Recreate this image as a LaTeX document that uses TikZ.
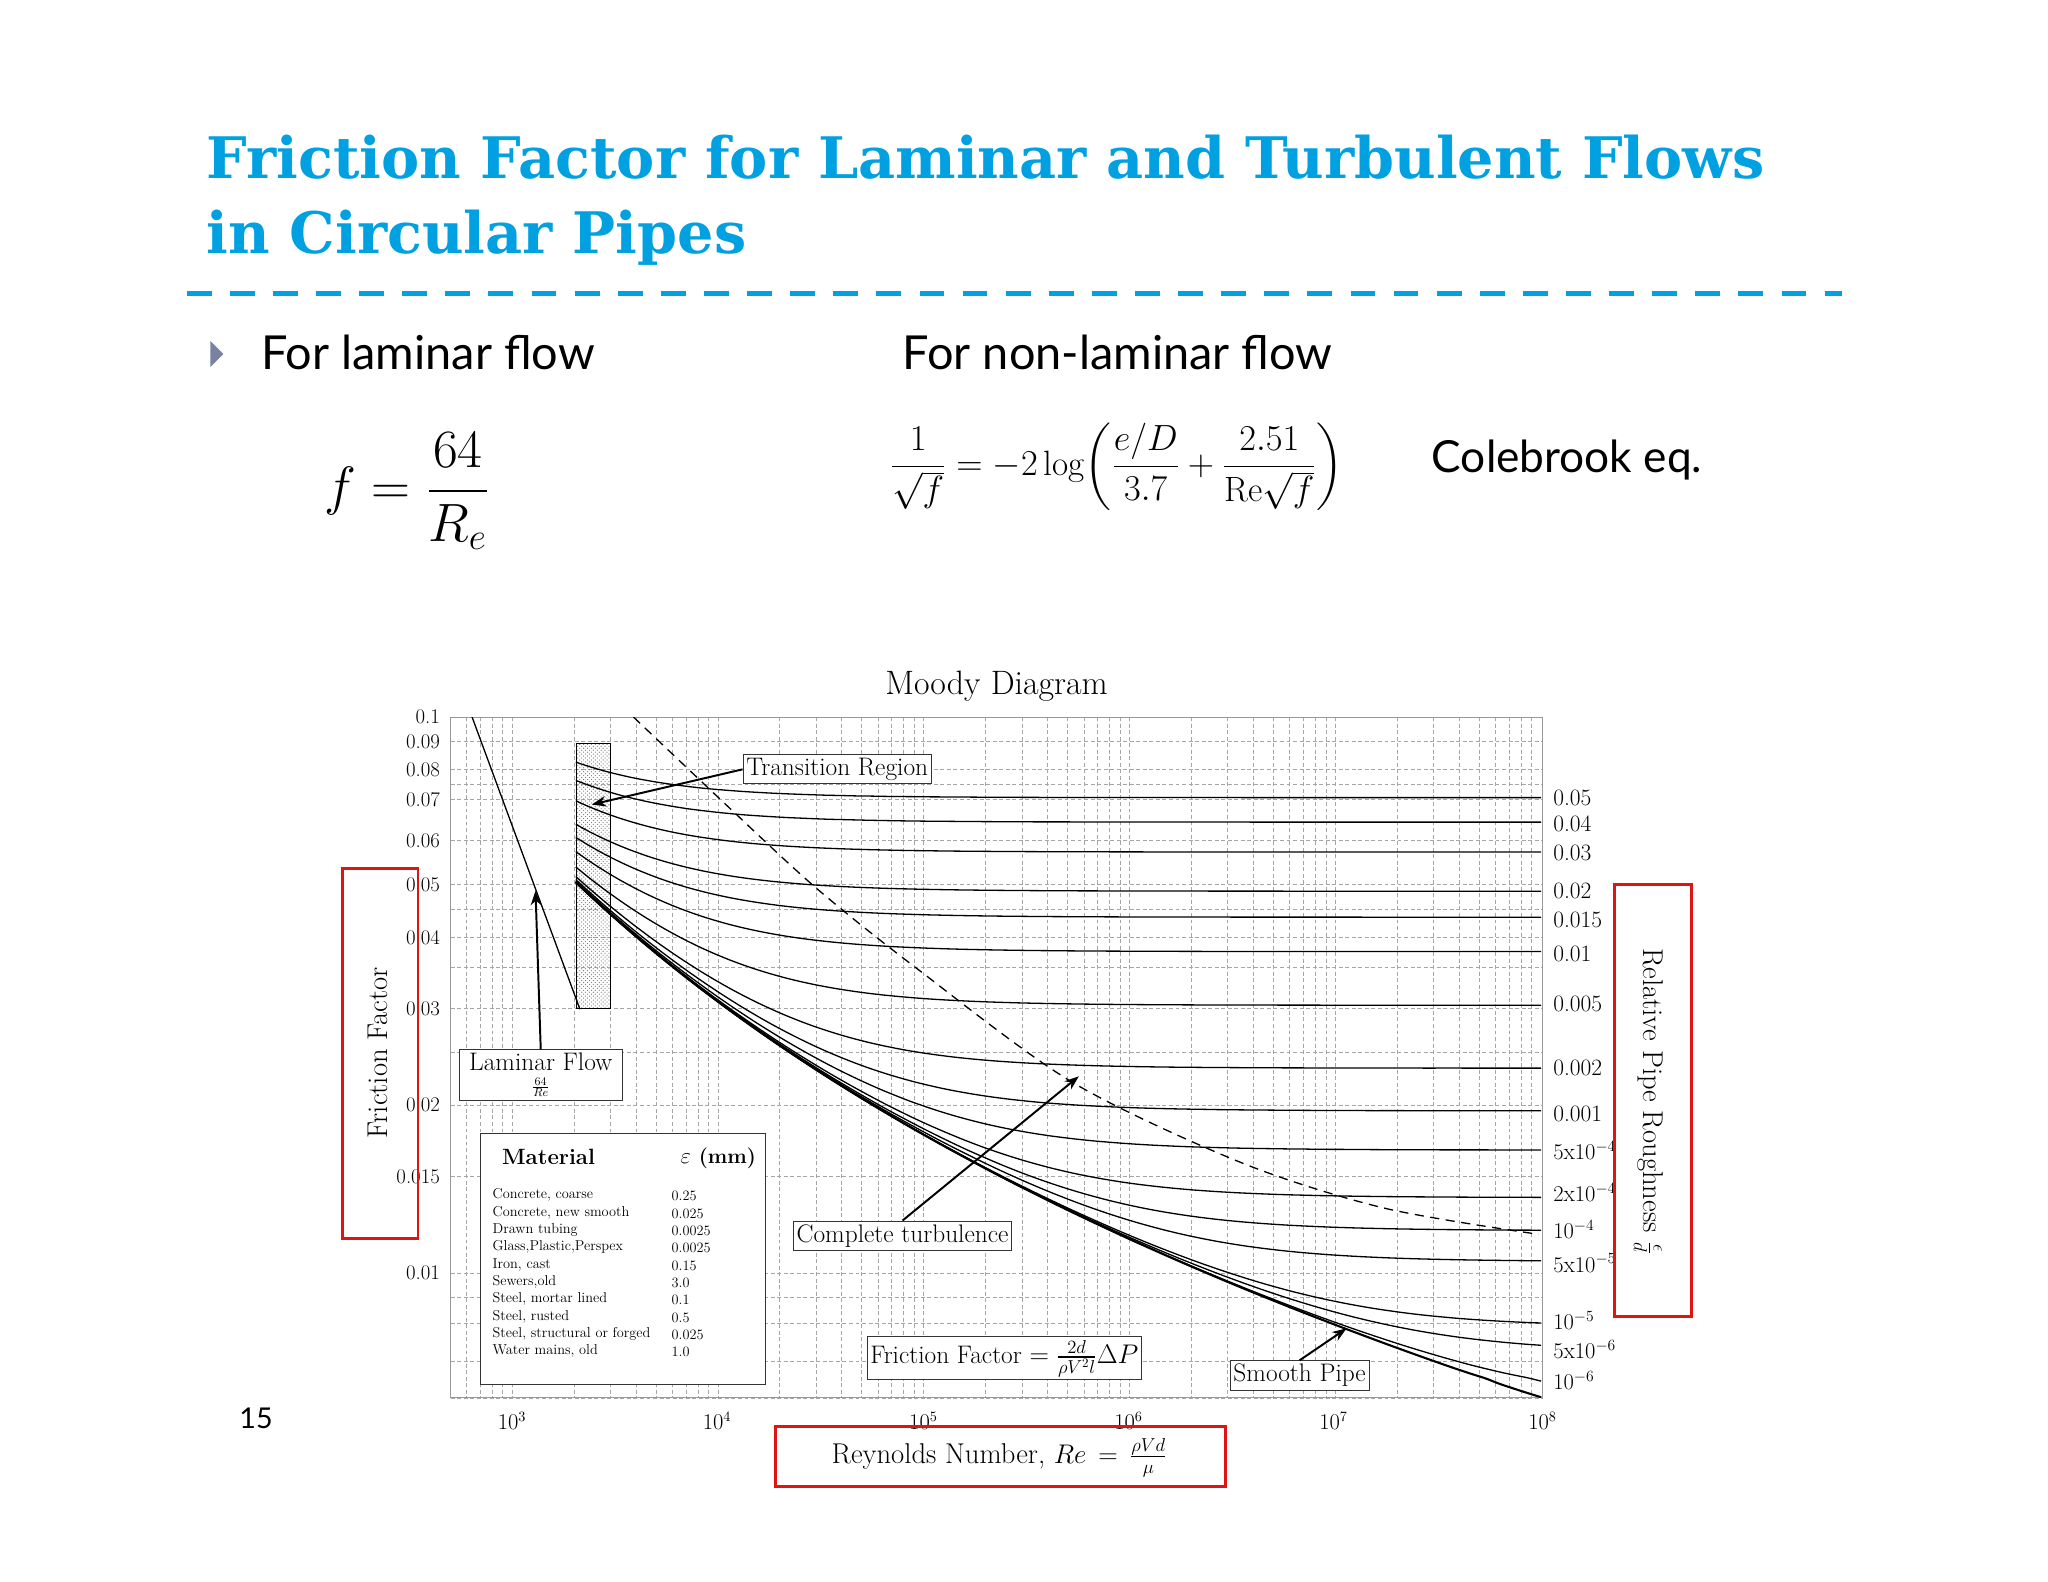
\documentclass[tikz,border=0pt]{standalone}
\usepackage{fontspec}
\usepackage{amsmath}
\newfontfamily\titlefont{DejaVu Serif}
\newfontfamily\gill{Lato}
\usetikzlibrary{patterns,arrows.meta}
\definecolor{tblue}{RGB}{0,160,225}
\definecolor{bulc}{RGB}{120,130,160}
\definecolor{rred}{RGB}{225,20,20}
\begin{document}
\begin{tikzpicture}[x=1bp,y=-1bp,
  gridl/.style={gray!70,dashed,line width=0.5bp,dash pattern=on 3bp off 2bp},
  curve/.style={black,line width=1bp},
  lbox/.style={draw=black!80,fill=white,line width=0.7bp,inner sep=2.5bp,font=\fontsize{19.5}{20}\selectfont},
  arr/.style={-{Stealth[length=11bp,width=8bp]},line width=1.5bp},
  rbox/.style={draw=rred,line width=2.2bp},
  tick/.style={font=\fontsize{16}{17}\selectfont}]
\useasboundingbox (0,0) rectangle (1568,1211);
% header
\node[anchor=base west,text=tblue,font=\titlefont\bfseries\fontsize{44}{48}\selectfont,inner sep=0] (t1) at (158,137) {Friction Factor for Laminar and Turbulent Flows};
\node[anchor=base west,text=tblue,font=\titlefont\bfseries\fontsize{44}{48}\selectfont,inner sep=0] (t2) at (158,194) {in Circular Pipes};
\draw[tblue,line width=4bp,dash pattern=on 19bp off 14bp] (143,225) -- (1410,225);
\fill[bulc] (161,261) -- (171,271) -- (161,281) -- cycle;
\node[anchor=base west,font=\gill\fontsize{36}{40}\selectfont,inner sep=0] (l1) at (200,283) {For laminar flow};
\node[anchor=base west,font=\gill\fontsize{36}{40}\selectfont,inner sep=0] (l2) at (691,283) {For non-laminar flow};
\node[anchor=base west,font=\gill\fontsize{34}{40}\selectfont,inner sep=0] (l3) at (1096,362) {Colebrook eq.};
\node[scale=2,font=\fontsize{20}{22}\selectfont] (e1) at (312,376) {$f=\dfrac{64}{R_e}$};
\node[scale=1.35,font=\fontsize{20}{22}\selectfont] (e2) at (855,357) {$\dfrac{1}{\sqrt{f}}=-2\log\!\left(\dfrac{e/D}{3.7}+\dfrac{2.51}{\mathrm{Re}\sqrt{f}}\right)$};
% plot grid
\foreach \d in {2,3,4} {\foreach \m in {1,...,9} {
  \pgfmathsetmacro\gx{392+157.6*(\d-3+log10(\m))}
  \ifdim\gx pt>346pt \draw[gridl] (\gx,549) -- (\gx,1070);\fi }}
\foreach \d in {5,6,7} {\foreach \m in {1,...,9} {
  \pgfmathsetmacro\gx{392+157.6*(\d-3+log10(\m))}
  \draw[gridl] (\gx,549) -- (\gx,1070); }}
\foreach \v in {0.006,0.007,0.008,0.009,0.01,0.015,0.02,0.025,0.03,0.035,0.04,0.045,0.05,0.06,0.07,0.075,0.08,0.09} {
  \pgfmathsetmacro\gy{549+427*(-1-log10(\v))}
  \draw[gridl] (345,\gy) -- (1181,\gy); }
\draw[gray!80,line width=0.8bp] (345,549) rectangle (1181,1070);
% ticks labels
\foreach \v/\s in {0.1/0.1,0.09/0.09,0.08/0.08,0.07/0.07,0.06/0.06,0.05/0.05,0.04/0.04,0.03/0.03,0.02/0.02,0.015/0.015,0.01/0.01} {
  \pgfmathsetmacro\gy{549+427*(-1-log10(\v))}
  \node[tick,anchor=east,inner sep=1bp] at (338,\gy) {\s}; }
\foreach \k/\xx in {3/392,4/549,5/707,6/864,7/1021,8/1181}
  \node[tick] at (\xx,1088) {$10^{\k}$};
% transition box
\draw[pattern=crosshatch dots,pattern color=gray] (441,569) rectangle (467,772);
% curves
\begin{scope}
\clip (345,549) rectangle (1181,1070);
\draw[curve] plot[domain=2.8:3.33,samples=10] ({392+157.6*(\x-3)},{549+427*(-1-(log10(64)-\x))});
\foreach \le in {-1.301,-1.398,-1.523,-1.699,-1.824,-2,-2.301,-2.699,-3,-3.301,-3.699,-4,-4.301,-5,-5.301,-6} {
  \draw[curve] plot[domain=3.31:8,samples=70,smooth] ({392+157.6*(\x-3)},{549+427*(-1+2*log10(-1.8*(log10(pow(10,1.11*(\le-0.5682)+6)+pow(10,6.8388-\x))-6)))});
}
\draw[curve,line width=1.6bp] plot[domain=3.31:8,samples=70,smooth] ({392+157.6*(\x-3)},{549+427*(-1+2*log10(-1.8*(log10(pow(10,6.8388-\x))-6)))});
\draw[line width=1bp,dash pattern=on 7bp off 5bp] plot[smooth] coordinates {(485,549) (560,620) (625,680) (700,740) (820,828) (950,890) (1060,925) (1178,945)};
\end{scope}
% right labels
\foreach \yy/\s in {611/0.05,631/0.04,653/0.03,682/0.02,704/0.015,730/0.01,769/0.005,818/0.002,853/0.001,881/$5\mathrm{x}10^{-4}$,913/$2\mathrm{x}10^{-4}$,941/$10^{-4}$,967/$5\mathrm{x}10^{-5}$,1011/$10^{-5}$,1033/$5\mathrm{x}10^{-6}$,1057/$10^{-6}$}
  \node[anchor=west,inner sep=1bp,font=\fontsize{18}{19}\selectfont] at (1188,\yy) {\s};
% annotation boxes
\node[lbox] (tr) at (641,589) {Transition Region};
\coordinate (trp) at (453,616);
\draw[arr] (tr.west) -- (trp);
\node[lbox,align=center,minimum width=125bp] (lf) at (414,823) {Laminar Flow\\[-4bp]{\fontsize{13}{13}\selectfont$\frac{64}{Re}$}};
\coordinate (lfp) at (410,682);
\draw[arr] (lf.north) -- (lfp);
\node[lbox] (ct) at (691,946) {Complete turbulence};
\coordinate (ctp) at (826,824);
\draw[arr] (ct.north) -- (ctp);
\node[lbox] (ff) at (769,1040) {Friction Factor $=\frac{2d}{\rho V^2 l}\Delta P$};
\node[lbox] (sp) at (995,1053) {Smooth Pipe};
\coordinate (spp) at (1031,1017);
\draw[arr] (sp.north) -- (spp);
% material table
\node[draw=black!80,fill=white,line width=0.8bp,minimum width=218bp,minimum height=192bp] (mt) at (477,964) {};
\node[font=\bfseries\fontsize{17}{18}\selectfont] (mh) at (420,886) {Material};
\node[font=\bfseries\fontsize{16}{18}\selectfont] (eh) at (550,887) {$\varepsilon$ (mm)};
\node[anchor=north west,align=left,inner sep=0,font=\fontsize{11}{13.3}\selectfont] (mn) at (377,910) {Concrete, coarse\\Concrete, new smooth\\Drawn tubing\\Glass,Plastic,Perspex\\Iron, cast\\Sewers,old\\Steel, mortar lined\\Steel, rusted\\Steel, structural or forged\\Water mains, old};
\node[anchor=north west,align=left,inner sep=0,font=\fontsize{11}{13.3}\selectfont] (mv) at (514,912) {0.25\\0.025\\0.0025\\0.0025\\0.15\\3.0\\0.1\\0.5\\0.025\\1.0};
% titles
\node[font=\fontsize{26}{28}\selectfont] (mdt) at (763,525) {Moody Diagram};
\node[rotate=90,font=\fontsize{22}{24}\selectfont] (fy) at (289,806) {Friction Factor};
\node[rotate=-90,font=\fontsize{22}{24}\selectfont] (ry) at (1262,843) {Relative Pipe Roughness $\frac{\epsilon}{d}$};
\node[font=\fontsize{22}{24}\selectfont] (rx) at (765,1116) {Reynolds Number, $Re\,=\,\frac{\rho V d}{\mu}$};
\draw[rbox] (262,665) rectangle (320,948);
\draw[rbox] (1236,677) rectangle (1295,1008);
\draw[rbox] (594,1092) rectangle (938,1138);
\node[font=\gill\fontsize{22}{24}\selectfont] (pn) at (196,1086) {15};
\end{tikzpicture}
\end{document}
